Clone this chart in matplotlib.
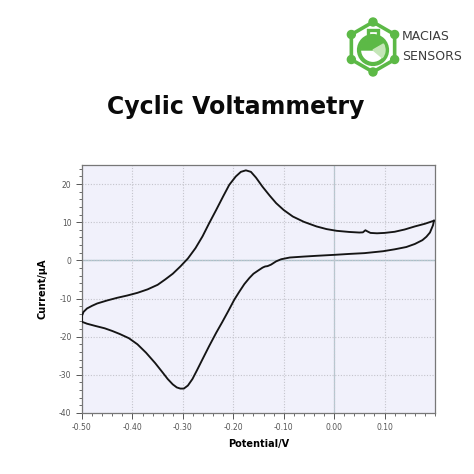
import numpy as np
import matplotlib
matplotlib.use("Agg")
import matplotlib.pyplot as plt
from matplotlib.patches import RegularPolygon, Circle, Wedge, Rectangle
from matplotlib.ticker import MultipleLocator, FormatStrFormatter

plt.rcParams["axes.unicode_minus"] = False

# Forward (anodic) scan: potential (V) and current (uA)
fwd_potential = [-0.500, -0.500, -0.497, -0.490, -0.480, -0.470, -0.450, -0.430, -0.410, -0.390,
                 -0.370, -0.350, -0.335, -0.320, -0.305, -0.290, -0.275, -0.261, -0.248, -0.234,
                 -0.220, -0.208, -0.195, -0.185, -0.175, -0.165, -0.155, -0.142, -0.128, -0.115,
                 -0.100, -0.082, -0.060, -0.035, -0.015, 0.005, 0.030, 0.050, 0.057, 0.062,
                 0.066, 0.072, 0.085, 0.100, 0.120, 0.140, 0.160, 0.180, 0.198]
fwd_current = [-16.1, -14.5, -13.5, -12.6, -11.9, -11.3, -10.5, -9.8, -9.2, -8.5,
               -7.6, -6.4, -5.0, -3.5, -1.6, 0.5, 3.2, 6.3, 9.7, 13.2,
               16.8, 19.8, 22.0, 23.2, 23.6, 23.2, 21.7, 19.3, 17.0, 15.0,
               13.2, 11.5, 10.1, 8.9, 8.2, 7.75, 7.45, 7.3, 7.35, 7.9,
               7.6, 7.2, 7.1, 7.2, 7.5, 8.1, 8.9, 9.6, 10.4]

# Reverse (cathodic) scan
rev_potential = [0.198, 0.196, 0.190, 0.183, 0.175, 0.160, 0.143, 0.120, 0.097, 0.060,
                 0.031, 0.000, -0.035, -0.060, -0.088, -0.105, -0.115, -0.125, -0.132, -0.137,
                 -0.142, -0.150, -0.160, -0.168, -0.178, -0.188, -0.198, -0.210, -0.222, -0.234,
                 -0.248, -0.261, -0.272, -0.281, -0.290, -0.298, -0.305, -0.312, -0.320, -0.330,
                 -0.340, -0.355, -0.373, -0.390, -0.407, -0.425, -0.440, -0.455, -0.473, -0.490,
                 -0.500]
rev_current = [10.4, 9.2, 7.3, 6.2, 5.3, 4.3, 3.5, 2.9, 2.4, 1.9,
               1.7, 1.45, 1.2, 1.0, 0.75, 0.3, -0.25, -1.1, -1.5, -1.6,
               -1.9, -2.6, -3.5, -4.6, -6.2, -8.2, -10.3, -13.3, -16.2, -19.0,
               -22.5, -25.9, -28.8, -31.1, -32.8, -33.6, -33.6, -33.3, -32.5, -31.1,
               -29.4, -26.9, -24.2, -22.0, -20.4, -19.3, -18.5, -17.8, -17.2, -16.6,
               -16.1]

x_ticks = [-0.5, -0.4, -0.3, -0.2, -0.1, 0.0, 0.1]
y_ticks = [-40, -30, -20, -10, 0, 10, 20]

fig = plt.figure(figsize=(4.74, 4.74), dpi=100)
fig.patch.set_facecolor("white")

ax = fig.add_axes([82/474, 1-413/474, (435-82)/474, (413-165)/474])
ax.set_facecolor("#f1f1fb")
ax.set_xlim(-0.5, 0.2)
ax.set_ylim(-40, 25)

ax.grid(True, which="major", linestyle=(0, (1, 1.5)), color="#c4c4cc", linewidth=0.8)
ax.axhline(0, color="#a8c0c8", linewidth=1.0, zorder=1)
ax.axvline(0, color="#b4c8d0", linewidth=0.9, zorder=1)

ax.plot(fwd_potential, fwd_current, color="#151515", linewidth=1.35, zorder=3)
ax.plot(rev_potential, rev_current, color="#151515", linewidth=1.35, zorder=3)

ax.set_xticks(x_ticks)
ax.set_yticks(y_ticks)
ax.xaxis.set_major_formatter(FormatStrFormatter("%.2f"))
ax.xaxis.set_minor_locator(MultipleLocator(0.02))
ax.yaxis.set_minor_locator(MultipleLocator(2))
ax.tick_params(axis="both", which="major", labelsize=5.5, labelcolor="#555555",
               color="#555555", length=4, width=0.7, direction="out")
ax.tick_params(axis="both", which="minor", color="#555555", length=2, width=0.6, direction="out")
for s in ax.spines.values():
    s.set_color("#777777")
    s.set_linewidth(0.9)

ax.set_xlabel("Potential/V", fontsize=7, fontweight="bold", labelpad=5)
ax.set_ylabel("Current/\u03bcA", fontsize=7, fontweight="bold", labelpad=8)

fig.text(236/474, 1-107/474, "Cyclic Voltammetry", ha="center", va="center",
         fontsize=17, fontweight="heavy", family="DejaVu Sans", color="#0a0a0a")

# Logo
green = "#5cb946"
lax = fig.add_axes([330/474, 1-80/474, 144/474, 80/474])
lax.set_xlim(330, 474)
lax.set_ylim(80, 0)
lax.axis("off")
cx, cy, r = 373, 47, 25
lax.add_patch(RegularPolygon((cx, cy), 6, radius=r, orientation=0, fill=False,
                             edgecolor=green, linewidth=2.6))
angles = np.deg2rad([90, 150, 210, 270, 330, 30])
for a in angles:
    lax.add_patch(Circle((cx + r*np.cos(a), cy - r*np.sin(a)), 4, color=green))
lax.add_patch(Circle((cx, cy + 3), 14, fill=False, edgecolor=green, linewidth=3))
lax.add_patch(Rectangle((cx - 5, cy - 17), 10, 7, fill=False, edgecolor=green, linewidth=2.4))
lax.add_patch(Wedge((cx, cy + 3), 12, 180, 330, color=green))
lax.add_patch(Wedge((cx, cy + 3), 12, 330, 40, color="#c5e6b8"))
lax.text(402, 37, "MACIAS", fontsize=9, color="#3c3c3c", family="DejaVu Sans",
         ha="left", va="center")
lax.text(402, 57, "SENSORS", fontsize=9, color="#3c3c3c", family="DejaVu Sans",
         ha="left", va="center")

fig.savefig("out.png", dpi=100)
